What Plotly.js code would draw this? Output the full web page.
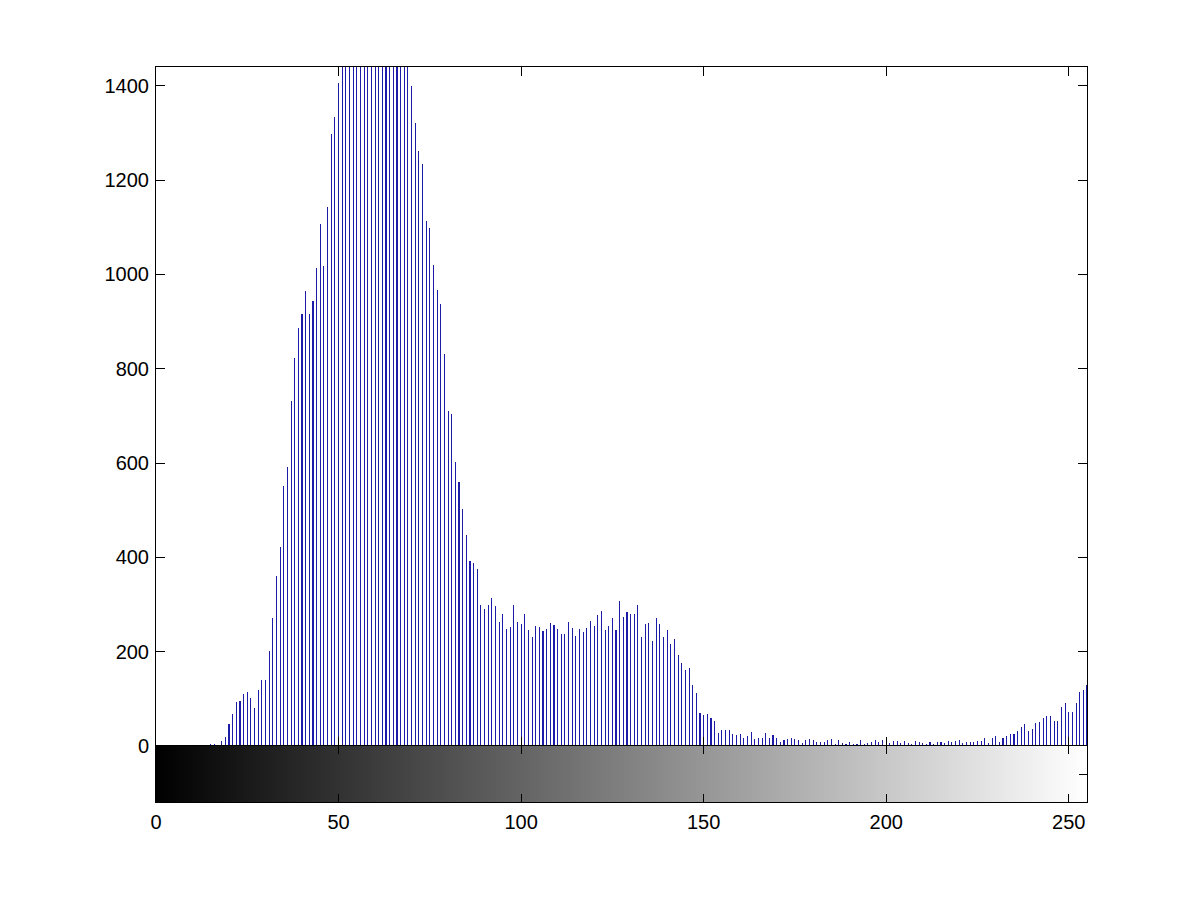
<!DOCTYPE html>
<html>
<head>
<meta charset="utf-8">
<script src="https://cdn.plot.ly/plotly-3.0.1.min.js"></script>
<style>
html,body{margin:0;padding:0;background:#fff;}
#chart{width:1201px;height:901px;}
#chart .bars path{shape-rendering:crispEdges;}
</style>
</head>
<body>
<div id="chart"></div>
<script>
// Histogram counts per gray level 0..255 (bins 51-69 are clipped in the picture; estimated)
const counts = [
  0,0,0,0,0,0,0,0,0,0,0,0,0,0,3,4,
  4,2,10,20,46,67,93,95,111,114,101,81,119,140,140,202,
  272,361,421,552,591,732,822,886,917,964,917,944,1014,1106,1019,1144,
  1297,1334,1407,1480,1530,1580,1620,1660,1690,1710,1730,1720,1710,1690,1660,1630,
  1600,1570,1540,1510,1480,1450,1400,1322,1261,1235,1114,1098,1020,967,938,832,
  711,705,602,559,502,447,392,389,375,298,290,300,313,296,262,281,
  248,252,298,262,258,281,245,231,255,252,243,248,260,256,249,237,
  237,262,251,233,249,241,250,266,255,277,286,245,255,272,245,308,
  274,284,279,279,298,232,258,260,222,271,258,232,247,216,226,194,
  177,161,165,129,112,69,65,67,60,52,28,35,35,33,25,23,
  25,18,21,29,14,17,18,27,16,23,18,8,12,14,16,14,
  12,6,12,14,12,8,8,8,12,14,4,12,6,4,8,4,
  4,12,4,6,8,12,8,12,20,6,11,11,6,11,6,4,
  10,8,6,4,8,4,8,8,6,10,8,10,12,6,8,8,
  8,10,10,16,6,16,21,8,18,21,25,25,31,40,46,31,
  37,48,50,59,63,63,54,54,82,91,72,72,91,114,118,130
];
// Gray levels (bin categories)
const grayLevels = counts.map((_, i) => i);
const xTicks = [0, 50, 100, 150, 200, 250];
const yTicks = [0, 200, 400, 600, 800, 1000, 1200, 1400];

const font = {family: 'Liberation Sans, Arial, sans-serif', size: 20, color: '#000'};

const traces = [
  {
    type: 'bar', x: grayLevels, y: counts, xaxis: 'x', yaxis: 'y',
    width: 0.3, marker: {color: '#1c1ca8', line: {width: 0}},
    hoverinfo: 'x+y'
  },
  {
    type: 'heatmap', x: grayLevels, y: [0], z: [grayLevels], xaxis: 'x2', yaxis: 'y2',
    colorscale: [[0, '#000000'], [1, '#ffffff']], zmin: 0, zmax: 255,
    showscale: false, hoverinfo: 'skip'
  }
];

const axisCommon = {
  showline: true, linecolor: '#000', linewidth: 1, mirror: 'ticks',
  ticks: 'inside', ticklen: 9, tickcolor: '#000', tickwidth: 1,
  showgrid: false, zeroline: false, tickfont: font
};

const split = 56 / 735;

const layout = {
  width: 1201, height: 901,
  paper_bgcolor: '#fff', plot_bgcolor: '#fff',
  margin: {l: 156, r: 114, t: 67, b: 99},
  showlegend: false, bargap: 0,
  xaxis: Object.assign({}, axisCommon, {
    range: [0, 255], tickvals: xTicks, showticklabels: false,
    anchor: 'y', domain: [0, 1]
  }),
  yaxis: Object.assign({}, axisCommon, {
    range: [0, 1440], tickvals: yTicks, anchor: 'x', domain: [split, 1],
    ticklabelstandoff: 2
  }),
  xaxis2: Object.assign({}, axisCommon, {
    range: [0, 255], tickvals: xTicks, anchor: 'y2', domain: [0, 1], ticklen: 8,
    ticklabelstandoff: 2
  }),
  yaxis2: Object.assign({}, axisCommon, {
    range: [-0.5, 0.5], tickvals: [0], showticklabels: false, anchor: 'x2',
    domain: [0, split], ticklen: 8
  })
};

Plotly.newPlot('chart', traces, layout, {displayModeBar: false, staticPlot: true});
</script>
</body>
</html>
